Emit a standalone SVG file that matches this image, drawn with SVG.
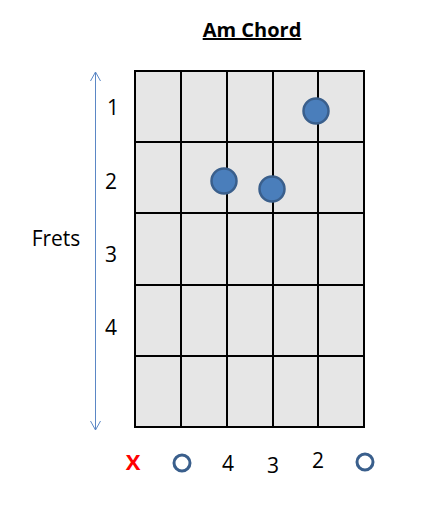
<svg xmlns="http://www.w3.org/2000/svg" width="446" height="510" viewBox="0 0 446 510">
<style>
text{font-family:"Open Sans","Liberation Sans",sans-serif;fill:#000}
.lbl{font-size:21px;text-anchor:middle}
.grid{stroke:#000;stroke-width:2;fill:none}
.dot{fill:#4a7ebb;stroke:#3a5f8c;stroke-width:2.5}
.open{fill:none;stroke:#3a5f8c;stroke-width:3}
.ah{fill:none;stroke:#5b87c5;stroke-width:1}
</style>
<rect width="446" height="510" fill="#fff"/>
<g id="title"><text x="252" y="37" font-size="20" font-weight="bold" text-anchor="middle" text-decoration="underline">Am Chord</text></g>
<g id="fretboard">
<rect x="135" y="71" width="229" height="356" fill="#e6e6e6"/>
<path class="grid" d="M135,71H364V427H135Z M181,71V427 M227,71V427 M273,71V427 M318,71V427 M135,142H364 M135,213H364 M135,285H364 M135,356H364"/>
</g>
<g id="connectors">
<line x1="95.5" y1="72" x2="95.5" y2="430" stroke="#5b87c5" stroke-width="1"/>
<path class="ah" d="M90.5,81 L95.5,72 L100.5,81"/>
<path class="ah" d="M90.5,421 L95.5,430 L100.5,421"/>
</g>
<g id="frets-label"><text x="56" y="246" font-size="21" text-anchor="middle">Frets</text></g>
<g id="fret-numbers">
<text class="lbl" x="113" y="115">1</text>
<text class="lbl" x="111" y="189">2</text>
<text class="lbl" x="111" y="262">3</text>
<text class="lbl" x="111" y="335">4</text>
</g>
<g id="finger1"><circle class="dot" cx="316" cy="111" r="12.5"/></g>
<g id="finger2"><circle class="dot" cx="224" cy="181" r="12.5"/></g>
<g id="finger3"><circle class="dot" cx="272" cy="189" r="12.5"/></g>
<g id="strings">
<text x="133" y="470" font-size="22" font-weight="bold" style="fill:#ff0000" text-anchor="middle">X</text>
<circle class="open" cx="182" cy="463" r="8"/>
<text class="lbl" x="228" y="471">4</text>
<text class="lbl" x="273" y="473">3</text>
<text class="lbl" x="318" y="468">2</text>
<circle class="open" cx="365" cy="462" r="8"/>
</g>
</svg>
